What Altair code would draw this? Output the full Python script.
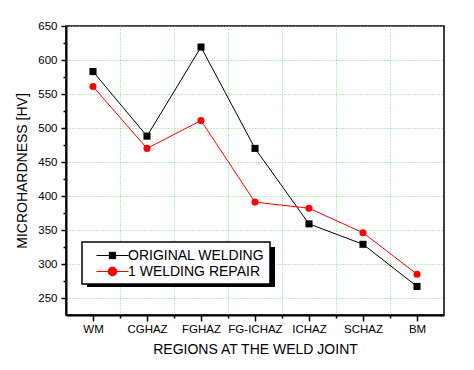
import json
import altair as alt
import pandas as pd

categories = ["WM", "CGHAZ", "FGHAZ", "FG-ICHAZ", "ICHAZ", "SCHAZ", "BM"]
original_welding = [583, 488, 619, 470, 359, 329, 267]
welding_repair = [561, 470, 511, 391, 382, 346, 285]
series_names = ["ORIGINAL WELDING", "1 WELDING REPAIR"]
series_colors = ["#000000", "#ff0000"]
y_ticks = list(range(250, 651, 25))

FONT = "Liberation Sans"

rows = []
for i, c in enumerate(categories):
    rows.append({"idx": i, "region": c, "series": series_names[0], "hv": original_welding[i]})
    rows.append({"idx": i, "region": c, "series": series_names[1], "hv": welding_repair[i]})
df = pd.DataFrame(rows)

n = len(categories)
x_vals = [k / 2 for k in range(0, 2 * n - 1)]
cats_js = json.dumps(categories)

x_enc = alt.X(
    "idx:Q",
    scale=alt.Scale(domain=[-0.5, n - 0.5], nice=False, zero=False),
    axis=alt.Axis(
        values=x_vals,
        labelExpr=f"datum.value % 1 === 0 ? {cats_js}[datum.value] : ''",
        tickSize={"condition": {"test": "datum.value % 1 === 0", "value": 6}, "value": 3},
        gridOpacity={"condition": {"test": "datum.value % 1 === 0", "value": 0}, "value": 1},
        labelPadding=2,
        titlePadding=8,
        title="REGIONS AT THE WELD JOINT",
    ),
)
y_enc = alt.Y(
    "hv:Q",
    scale=alt.Scale(domain=[225, 650], nice=False, zero=False),
    axis=alt.Axis(
        values=y_ticks,
        labelExpr="datum.value % 50 === 0 ? datum.label : ''",
        tickSize={"condition": {"test": "datum.value % 50 === 0", "value": 5}, "value": 3},
        gridOpacity={"condition": {"test": "datum.value % 50 === 0", "value": 1}, "value": 0},
        labelPadding=4,
        titlePadding=8,
        title="MICROHARDNESS [HV]",
    ),
)

base = alt.Chart(df)
color_scale = alt.Scale(domain=series_names, range=series_colors)

lines = base.mark_line(strokeWidth=1).encode(
    x=x_enc, y=y_enc,
    color=alt.Color("series:N", scale=color_scale, legend=None),
)
points = base.mark_point(filled=True, size=50, opacity=1).encode(
    x=x_enc, y=y_enc,
    color=alt.Color("series:N", scale=color_scale, legend=None),
    shape=alt.Shape("series:N", scale=alt.Scale(domain=series_names, range=["square", "circle"]), legend=None),
)

sq_path = "M-2,0H2M-0.4,-0.4H0.4V0.4H-0.4Z"
ci_path = "M-2,0H2M0.55,0A0.55,0.55,0,1,1,-0.55,0A0.55,0.55,0,1,1,0.55,0Z"

real_legend = alt.Legend(
    orient="none", title=None, legendX=16, legendY=216,
    labelFont=FONT, labelFontSize=14, labelColor="#000000", labelLimit=400,
    symbolSize=256, symbolStrokeWidth=1, symbolOffset=17, labelOffset=7,
    padding=5, rowPadding=0, fillColor="#ffffff", strokeColor="#000000",
    cornerRadius=0, zindex=2,
)

real = base.transform_filter("false").mark_point(filled=True, opacity=1, strokeWidth=1).encode(
    shape=alt.Shape("series:N", scale=alt.Scale(domain=series_names, range=[sq_path, ci_path]), legend=real_legend),
    fill=alt.Fill("series:N", scale=alt.Scale(domain=series_names, range=series_colors), legend=real_legend),
    stroke=alt.Stroke("series:N", scale=alt.Scale(domain=series_names, range=series_colors), legend=real_legend),
)

# drop shadow of the legend box: a black gradient legend offset behind the real one
shadow = base.transform_filter("false").mark_square(opacity=1).encode(
    color=alt.Color(
        "hv:Q",
        scale=alt.Scale(domain=[0, 1], range=["#000000", "#000000"]),
        legend=alt.Legend(
            orient="none", legendX=21, legendY=221, direction="horizontal",
            gradientLength=188, gradientThickness=40, labelExpr="''", labelOpacity=0,
            labelFontSize=1, title=None, tickCount=2,
            padding=0, gradientStrokeWidth=0, zindex=1,
        ),
    ),
)

chart = alt.layer(lines, points, shadow, real).resolve_scale(
    shape="independent", fill="independent", stroke="independent", color="independent"
).properties(
    width=378, height=289,
    autosize=alt.AutoSizeParams(type="none"),
    padding={"left": 58, "top": 18, "right": 22, "bottom": 47},
    background="white",
).configure_view(
    stroke="#000000", strokeWidth=1.5
).configure_legend(
    strokeWidth=1.5
).configure_axis(
    domainColor="#000000", domainWidth=2, tickColor="#000000", tickWidth=1.5,
    labelFont=FONT, labelFontSize=11.5, labelColor="#000000",
    titleFont=FONT, titleFontSize=14, titleFontWeight="normal", titleColor="#000000",
    gridColor="#77dd77", gridDash=[1, 2], gridWidth=1,
)

chart.save("out.html", embed_options={"renderer": "svg", "actions": False})
